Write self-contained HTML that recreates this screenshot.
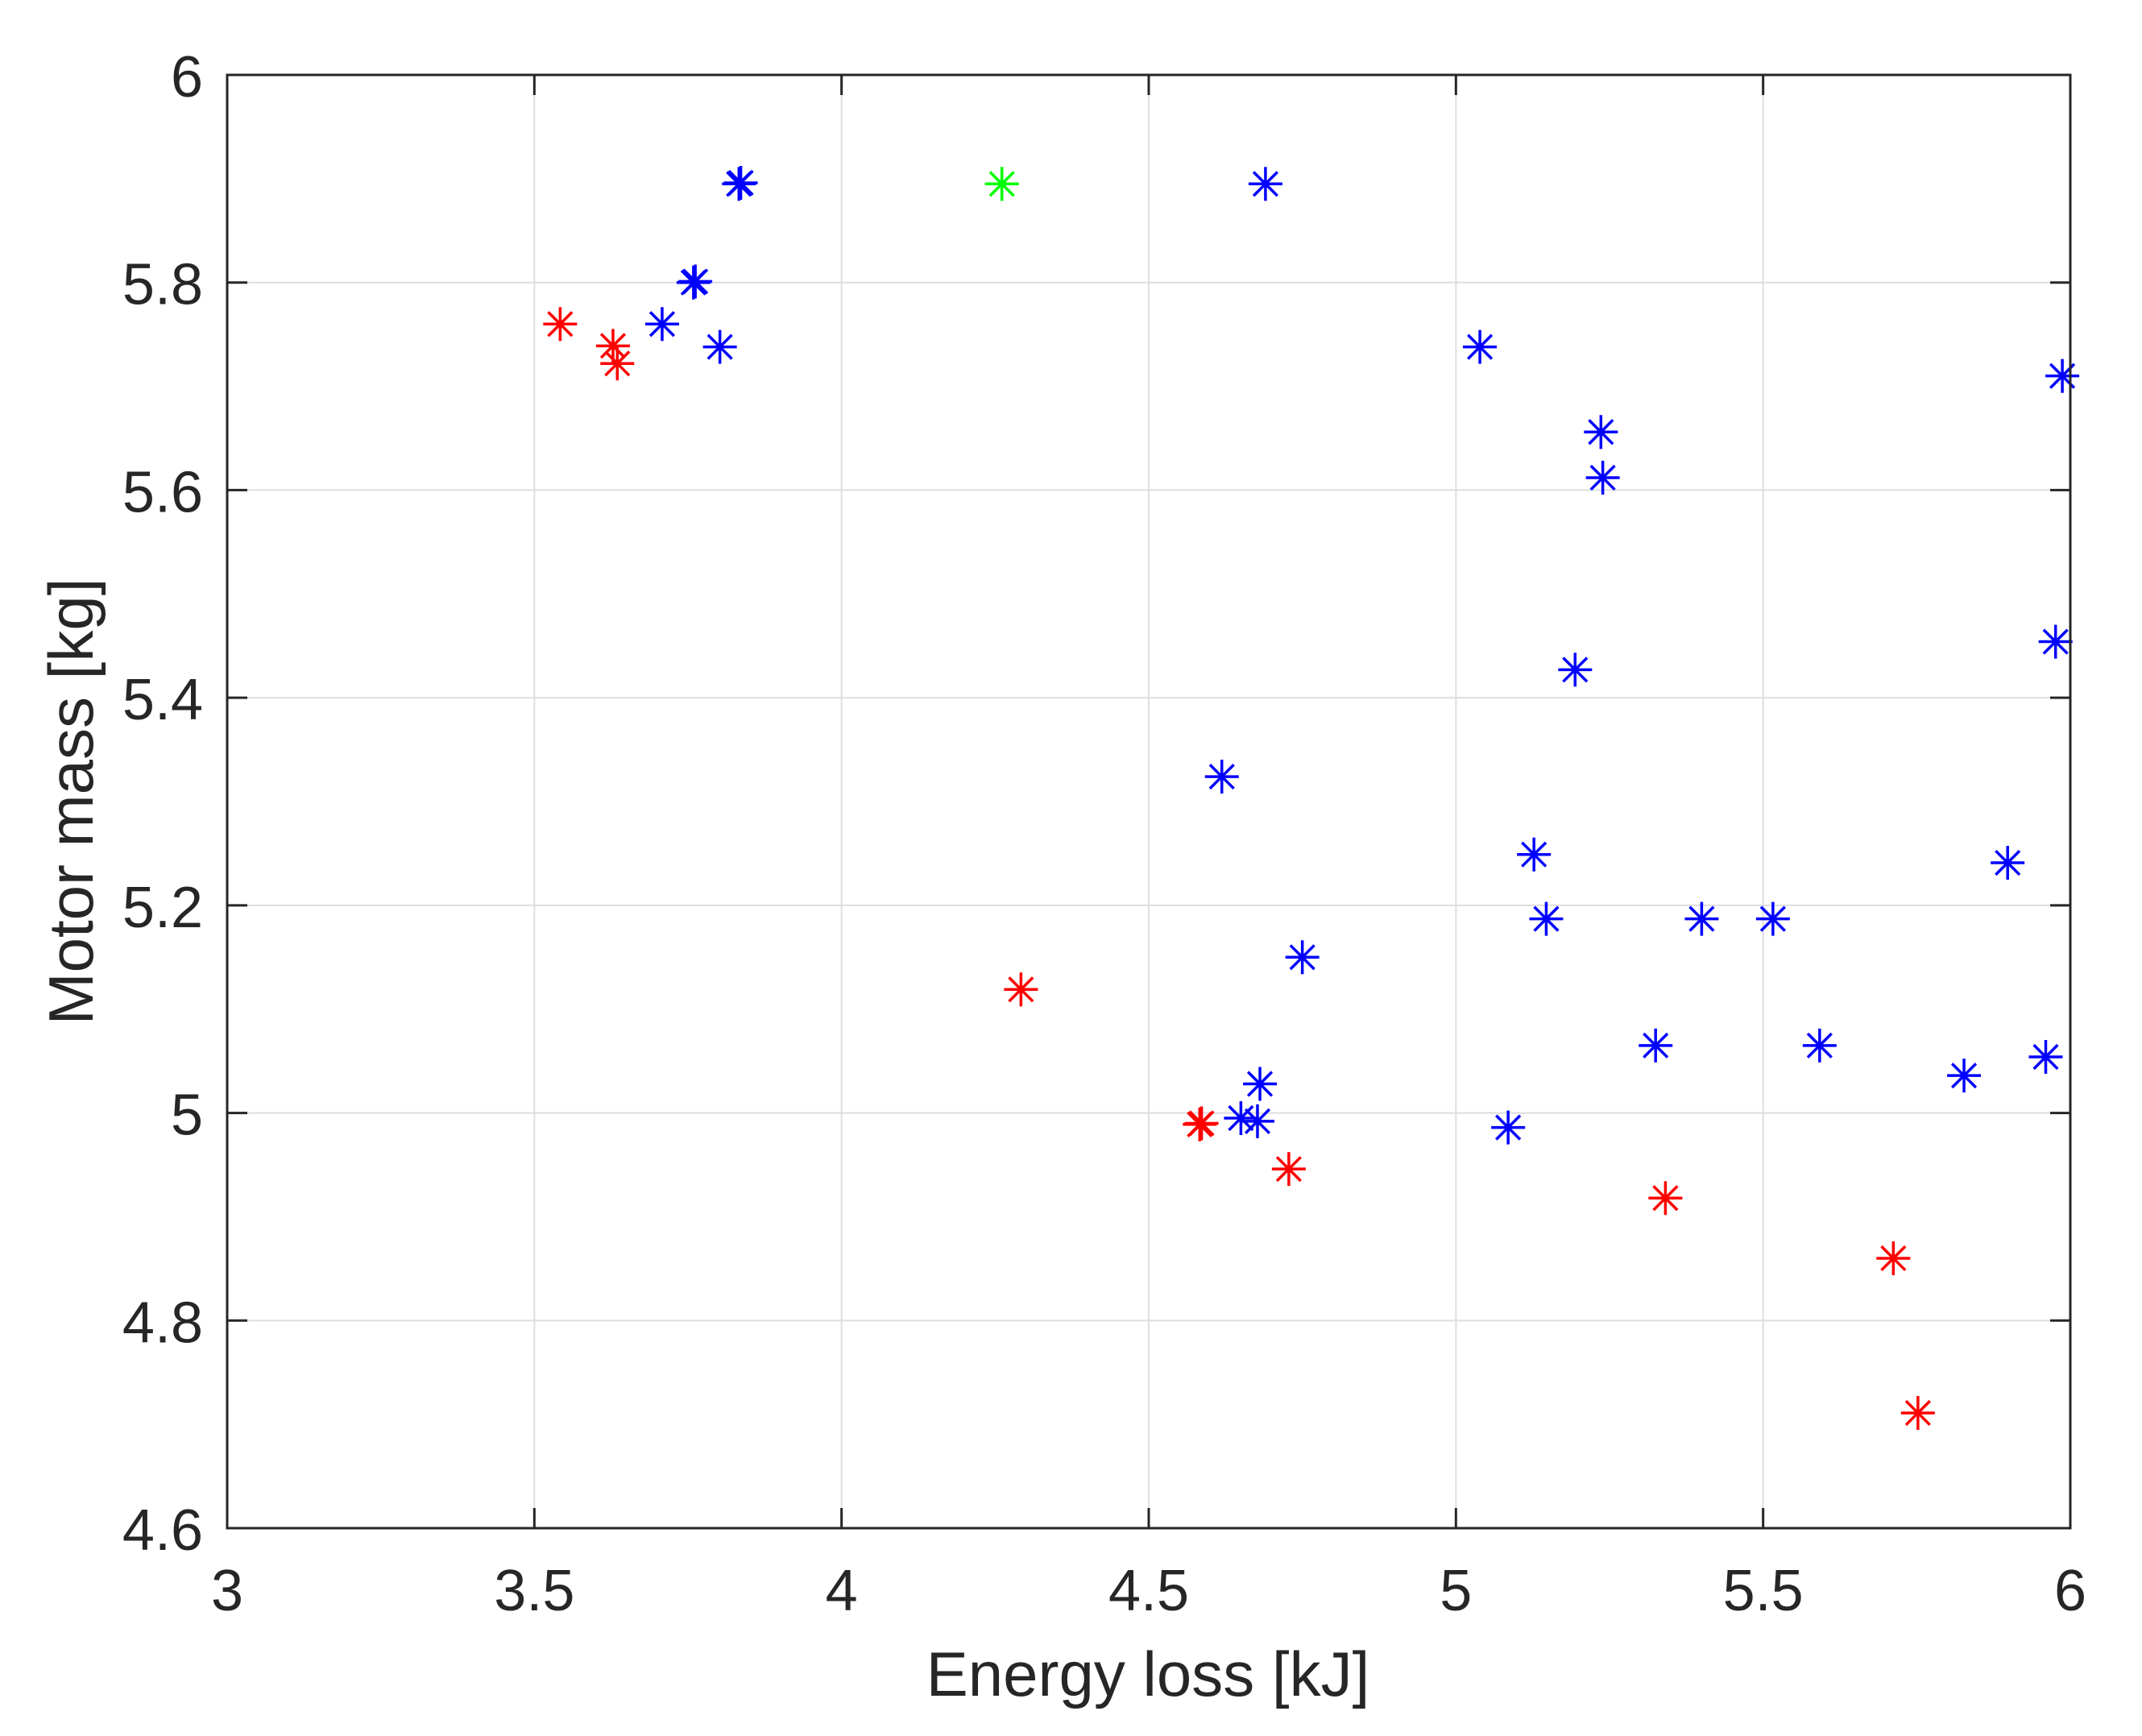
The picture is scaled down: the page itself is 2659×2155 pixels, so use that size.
<!DOCTYPE html>
<html><head><meta charset="utf-8"><style>
html,body{margin:0;padding:0;background:#fff;}
svg{display:block;font-family:"Liberation Sans",Arial,sans-serif;}
</style></head><body>
<svg id="chart" width="2659" height="2155" viewBox="0 0 2659 2155" xmlns="http://www.w3.org/2000/svg">
<rect width="2659" height="2155" fill="#fff"/>
<g id="grid"></g>
<g id="marks"></g>
<g id="axes"></g>
<text x="1425" y="2078" font-size="78" fill="#262626" text-anchor="middle" dominant-baseline="central">Energy loss [kJ]</text>
<text x="88" y="995" font-size="78" fill="#262626" text-anchor="middle" dominant-baseline="central" transform="rotate(-90 88 995)">Motor mass [kg]</text>
</svg>
<script>
const xTicks=[3,3.5,4,4.5,5,5.5,6];
const xTickLabels=["3","3.5","4","4.5","5","5.5","6"];
const yTicks=[4.6,4.8,5,5.2,5.4,5.6,5.8,6];
const yTickLabels=["4.6","4.8","5","5.2","5.4","5.6","5.8","6"];
const blueX=[3.833,3.836,4.690,3.759,3.762,3.708,3.802,5.039,5.236,5.239,5.987,5.976,5.194,4.619,5.127,5.898,5.147,5.400,5.516,4.750,5.325,5.592,5.960,5.827,4.681,4.650,4.677,5.085];
const blueY=[5.895,5.896,5.895,5.800,5.801,5.760,5.738,5.738,5.656,5.612,5.710,5.454,5.427,5.324,5.249,5.241,5.187,5.187,5.187,5.150,5.065,5.065,5.054,5.036,5.028,4.995,4.992,4.986];
const redX=[3.542,3.628,3.635,4.292,4.583,4.586,4.728,5.341,5.712,5.752];
const redY=[5.760,5.739,5.722,5.119,4.989,4.990,4.946,4.918,4.860,4.711];
const greenX=[4.261];
const greenY=[5.895];

const L=282,R=2570,T=93,B=1897;
const xMin=3,xMax=6,yMin=4.6,yMax=6;
const sx=v=>L+(v-xMin)/(xMax-xMin)*(R-L);
const sy=v=>B-(v-yMin)/(yMax-yMin)*(B-T);
const NS="http://www.w3.org/2000/svg";
function mk(tag,attrs,parent){const e=document.createElementNS(NS,tag);for(const k in attrs)e.setAttribute(k,attrs[k]);parent.appendChild(e);return e;}
const grid=document.getElementById('grid'),axes=document.getElementById('axes'),marks=document.getElementById('marks');
xTicks.forEach((t,i)=>{
  const x=sx(t);
  if(i>0&&i<xTicks.length-1){const g=mk('line',{x1:x,x2:x,y1:T,y2:B,stroke:'#dedede','stroke-width':2},grid);
  
  }
  mk('line',{x1:x,x2:x,y1:B,y2:B-25,stroke:'#262626','stroke-width':3},axes);
  mk('line',{x1:x,x2:x,y1:T,y2:T+25,stroke:'#262626','stroke-width':3},axes);
  const tx=mk('text',{x:x,y:1975,'font-size':72,fill:'#262626','text-anchor':'middle','dominant-baseline':'central'},axes);
  tx.textContent=xTickLabels[i];
  
  
});
yTicks.forEach((t,i)=>{
  const y=sy(t);
  if(i>0&&i<yTicks.length-1){const g=mk('line',{x1:L,x2:R,y1:y,y2:y,stroke:'#dedede','stroke-width':2},grid);
  
  }
  mk('line',{x1:L,x2:L+25,y1:y,y2:y,stroke:'#262626','stroke-width':3},axes);
  mk('line',{x1:R,x2:R-25,y1:y,y2:y,stroke:'#262626','stroke-width':3},axes);
  const tx=mk('text',{x:252,y:y+3,'font-size':72,fill:'#262626','text-anchor':'end','dominant-baseline':'central'},axes);
  tx.textContent=yTickLabels[i];
  
  
});
const box=mk('rect',{x:L,y:T,width:R-L,height:B-T,fill:'none',stroke:'#262626','stroke-width':3},axes);


function star(cx,cy,color){
  const g=mk('g',{stroke:color,'stroke-width':3.5,fill:'none'},marks);
  const r=21,d=r*0.707;
  mk('line',{x1:cx-r,x2:cx+r,y1:cy,y2:cy},g);
  mk('line',{x1:cx,x2:cx,y1:cy-r,y2:cy+r},g);
  mk('line',{x1:cx-d,x2:cx+d,y1:cy-d,y2:cy+d},g);
  mk('line',{x1:cx-d,x2:cx+d,y1:cy+d,y2:cy-d},g);
  return g;
}
blueX.forEach((v,i)=>{const g=star(sx(v),sy(blueY[i]),'#0000ff');
  
  });
redX.forEach((v,i)=>{const g=star(sx(v),sy(redY[i]),'#ff0000');
  
  });
greenX.forEach((v,i)=>{const g=star(sx(v),sy(greenY[i]),'#00ff00');
  
  });
</script>
</body></html>
